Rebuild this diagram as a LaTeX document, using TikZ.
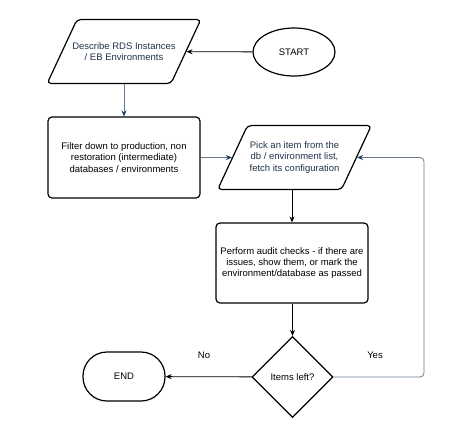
\documentclass[tikz,border=0pt]{standalone}
\usepackage{fontspec}
\setmainfont{Liberation Sans}
\usetikzlibrary{shapes.geometric,arrows.meta}
\definecolor{navytext}{HTML}{22324A}
\definecolor{linkgray}{HTML}{687A94}
\definecolor{headblue}{HTML}{1F3A60}
\tikzset{
  txt/.style={align=center, font=\fontsize{9.5}{11.3}\selectfont},
  base/.style={draw=black, line width=1.2pt, txt, inner sep=2pt},
  procbox/.style={base, rectangle, rounded corners=4pt, minimum width=152pt, minimum height=80pt},
  iobox/.style={base, trapezium, trapezium left angle=65, trapezium right angle=115, rounded corners=4pt, inner xsep=47pt, inner ysep=32pt},
  iotext/.style={txt, text=navytext},
  termbox/.style={base, ellipse, minimum width=82pt, minimum height=48pt},
  endbox/.style={base, rectangle, rounded corners=24pt, minimum width=82pt, minimum height=49pt},
  decbox/.style={base, diamond, minimum width=81pt, minimum height=81pt, inner sep=0pt},
  arr/.style={line width=0.8pt, draw=black, -{Stealth[length=6pt,width=5pt,inset=2pt]}},
  garr/.style={line width=0.8pt, draw=linkgray, -{Stealth[length=6pt,width=5pt,inset=2pt,color=headblue]}},
  lbl/.style={font=\fontsize{9.5}{11.3}\selectfont}
}
\begin{document}
\begin{tikzpicture}[x=1pt,y=-1pt]
\useasboundingbox (0,0) rectangle (474,445);
\node[termbox] (start) at (294,52) {START};
\node[iobox, label={[iotext]center:Describe RDS Instances\\/ EB Environments}] (desc) at (124,51.5) {};
\node[procbox, minimum height=81pt] (filter) at (124,157.5) {Filter down to production, non\\restoration (intermediate)\\databases / environments};
\node[iobox, label={[iotext]center:Pick an item from the\\db / environment list,\\fetch its configuration}] (pick) at (294.5,157.5) {};
\node[procbox] (audit) at (292,263) {Perform audit checks - if there are\\issues, show them, or mark the\\environment/database as passed};
\node[decbox] (items) at (292.5,377) {Items left?};
\node[endbox] (end) at (124,376.5) {END};
\coordinate (loop) at (424,377);
\draw[arr] (start) -- (desc);
\draw[garr] (desc) -- (filter);
\draw[garr] (filter) -- (pick);
\draw[arr] (pick.south -| audit.north) -- (audit.north);
\draw[arr] (audit.south -| items.north) -- (items.north);
\draw[arr] (items) -- (end);
\draw[garr, rounded corners=4pt] (items.east) -- (loop) |- (pick.east);
\node[lbl] (no) at (204,355) {No};
\node[lbl] (yes) at (375,355) {Yes};
\end{tikzpicture}
\end{document}
